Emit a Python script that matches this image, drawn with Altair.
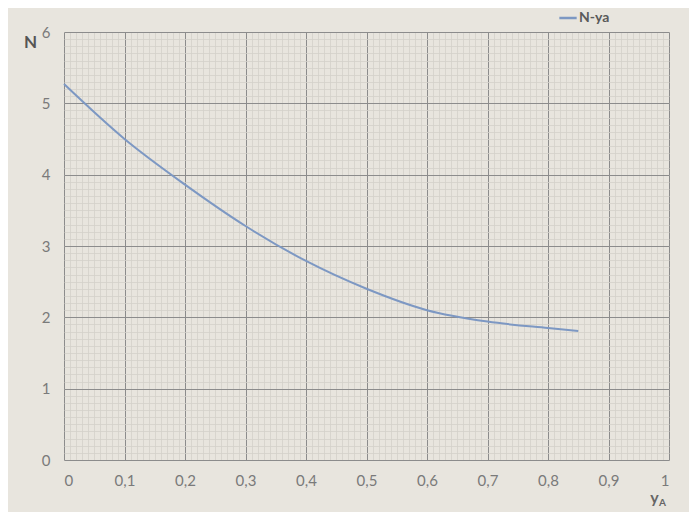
import altair as alt
import pandas as pd

# Data
ya_values = [0.0, 0.1, 0.2, 0.3, 0.4, 0.5, 0.6, 0.7, 0.8, 0.85]
n_values = [5.27, 4.50, 3.86, 3.28, 2.79, 2.40, 2.10, 1.94, 1.85, 1.81]
series_name = "N-ya"

x_major = [round(i / 10, 1) for i in range(11)]
x_minor = [round(i / 100, 2) for i in range(101)]
y_major = list(range(7))
y_minor = [round(i / 10, 1) for i in range(61)]

df = pd.DataFrame({"ya": ya_values, "N": n_values, "series": series_name})

FONT = "Lato"
LBL = "#7a7a7a"
xscale = alt.Scale(domain=[0, 1], nice=False, zero=False)
yscale = alt.Scale(domain=[0, 6], nice=False, zero=False)

minor = alt.Chart(df).mark_point(opacity=0).encode(
    x=alt.X("ya:Q", scale=xscale,
            axis=alt.Axis(orient="top", values=x_minor, grid=True, gridColor="#d3d0ca",
                          gridWidth=0.8, labels=False, ticks=False, domain=False, title=None)),
    y=alt.Y("N:Q", scale=yscale,
            axis=alt.Axis(orient="right", values=y_minor, grid=True, gridColor="#d3d0ca",
                          gridWidth=0.8, labels=False, ticks=False, domain=False, title=None)),
)

line = alt.Chart(df).mark_line(strokeWidth=2, interpolate="monotone").encode(
    x=alt.X("ya:Q", scale=xscale,
            axis=alt.Axis(orient="bottom", values=x_major, grid=True, gridColor="#8c8c8c",
                          gridWidth=1, ticks=False, domain=False, labelPadding=13,
                          labelFont=FONT, labelFontSize=15, labelColor=LBL,
                          labelExpr="datum.value == 0 ? '0' : datum.value == 1 ? '1' : replace(format(datum.value, '.1f'), '.', ',')",
                          title="y", titleFont=FONT, titleFontSize=16, titleColor="#666666",
                          titleFontWeight="bold", titleX=590, titleY=42, titleAnchor="start",
                          titleAlign="center", titleBaseline="alphabetic")),
    y=alt.Y("N:Q", scale=yscale,
            axis=alt.Axis(orient="left", values=y_major, grid=True, gridColor="#8c8c8c",
                          gridWidth=1, ticks=False, domain=False, labelPadding=14,
                          labelFont=FONT, labelFontSize=15, labelColor=LBL,
                          title="N", titleFont=FONT, titleFontSize=17, titleColor="#555555",
                          titleFontWeight="bold", titleAngle=0, titleX=-34, titleY=10,
                          titleAlign="center", titleBaseline="middle")),
    color=alt.Color("series:N", scale=alt.Scale(range=["#7d98c3"]),
                    legend=alt.Legend(orient="none", legendX=494, legendY=-24, title=None,
                                      symbolType="stroke", symbolStrokeWidth=2.5, symbolSize=300,
                                      labelFont=FONT, labelFontSize=14, labelFontWeight="bold",
                                      labelColor="#5a5a5a", labelOffset=1, padding=0)),
)

sub = alt.Chart(pd.DataFrame({"t": ["A"]})).mark_text(
    font=FONT, fontSize=10, fontWeight="bold", color="#666666", align="left", baseline="alphabetic"
).encode(text="t:N", x=alt.value(595), y=alt.value(474))

chart = alt.layer(minor, line, sub).resolve_axis(x="independent", y="independent").properties(
    width=605, height=428,
    autosize=alt.AutoSizeParams(type="none"),
    padding={"left": 56, "top": 24, "right": 20, "bottom": 52},
    background="#e8e5de",
).configure_view(stroke=None)

chart.save("out.html", embed_options={"renderer": "svg", "actions": False})
